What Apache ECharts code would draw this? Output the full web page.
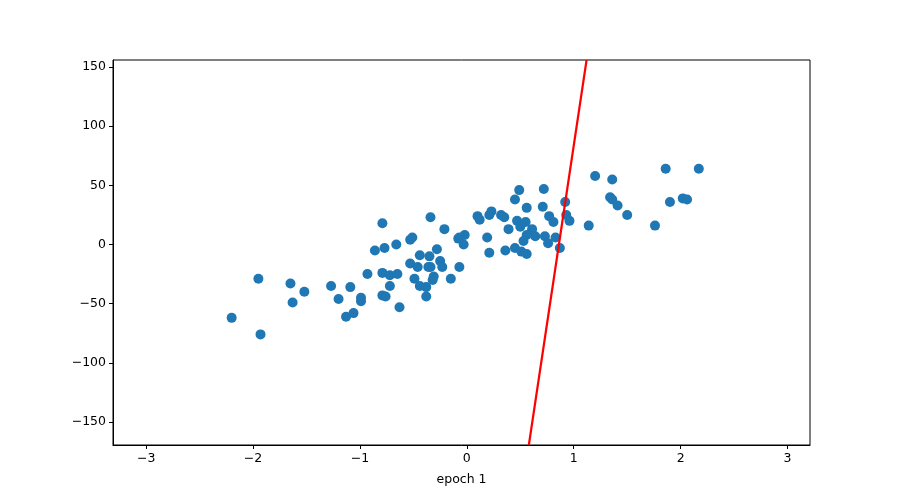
<!DOCTYPE html>
<html lang="en">
<head>
    <meta charset="UTF-8">
    <title>epoch 1</title>
    <script src="https://cdn.jsdelivr.net/npm/echarts@6/dist/echarts.min.js"></script>
</head>
<body style="margin:0">
    <div id="chart" style="width:900px;height:500px"></div>
    <script>
        let xs=[-2.20,-1.93,-1.95,-1.65,-1.63,-1.52,-1.27,-1.20,-1.13,-1.06,-1.09,-0.99,-0.99,-0.93,-0.79,-0.86,-0.77,-0.66,-0.79,-0.72,
            -0.65,-0.72,-0.79,-0.76,-0.63,-0.53,-0.51,-0.34,-0.21,-0.53,-0.44,-0.46,-0.36,-0.34,-0.35,-0.28,-0.25,-0.23,-0.49,-0.44,
            -0.38,-0.32,-0.31,-0.38,-0.15,-0.07,-0.08,-0.02,-0.03,-0.07,0.10,0.12,0.21,0.23,0.32,0.35,0.19,0.21,0.36,0.39,
            0.45,0.49,0.56,0.47,0.50,0.55,0.61,0.64,0.56,0.53,0.45,0.51,0.56,0.71,0.72,0.77,0.81,0.73,0.76,0.83,
            0.87,0.92,0.93,0.96,1.14,1.20,1.36,1.34,1.36,1.41,1.50,1.76,1.86,1.90,2.02,2.06,2.17];
        let ys=[-62,-76,-29,-33,-49,-40,-35,-46,-61,-58,-36,-45,-48,-25,18,-5,-3,0,-24,-26,
            -25,-35,-43,-44,-53,4,6,23,13,-16,-9,-19,-19,-19,-10,-4,-14,-19,-29,-35,
            -36,-30,-27,-44,-29,-19,5,8,0,6,24,21,25,28,25,23,6,-7,-5,13,
            38,46,31,20,15,19,13,7,8,3,-3,-6,-8,32,47,24,19,7,1,6,
            -3,36,25,20,16,58,55,40,38,33,25,16,64,36,39,38,64];
        let fitLine=[[0.58,-169.5],[1.12,156]];
        let xTicks=[-3,-2,-1,0,1,2,3];
        let yTicks=[-150,-100,-50,0,50,100,150];

        let points=xs.map((x,i)=>[x,ys[i]]);
        let font={color:'#000',fontSize:12.5,fontFamily:'DejaVu Sans'};
        let chart=echarts.init(document.getElementById('chart'));
        chart.setOption({
            animation:false,
            grid:{left:113,right:90,top:60,bottom:55,show:true,borderColor:'#000',borderWidth:1},
            xAxis:{
                type:'value',min:-3.31,max:3.21,
                name:'epoch 1',nameLocation:'middle',nameGap:28,nameTextStyle:font,
                axisLine:{onZero:false,lineStyle:{color:'#000'}},
                axisTick:{show:true,length:4,customValues:xTicks,lineStyle:{color:'#000'}},
                axisLabel:Object.assign({customValues:xTicks,margin:7,formatter:v=>String(v).replace('-','\u2212')},font),
                splitLine:{show:false},
            },
            yAxis:{
                type:'value',min:-169.5,max:156,
                axisLine:{show:true,onZero:false,lineStyle:{color:'#000'}},
                axisTick:{show:true,length:4,customValues:yTicks,lineStyle:{color:'#000'}},
                axisLabel:Object.assign({customValues:yTicks,margin:7,formatter:v=>String(v).replace('-','\u2212')},font),
                splitLine:{show:false},
            },
            series:[
                {type:'scatter',data:points,symbolSize:10,itemStyle:{color:'#1f77b4',opacity:1}},
                {type:'line',data:fitLine,symbol:'none',lineStyle:{color:'#ff0000',width:2.2},clip:true,z:3},
            ],
        });
    </script>
</body>
</html>
